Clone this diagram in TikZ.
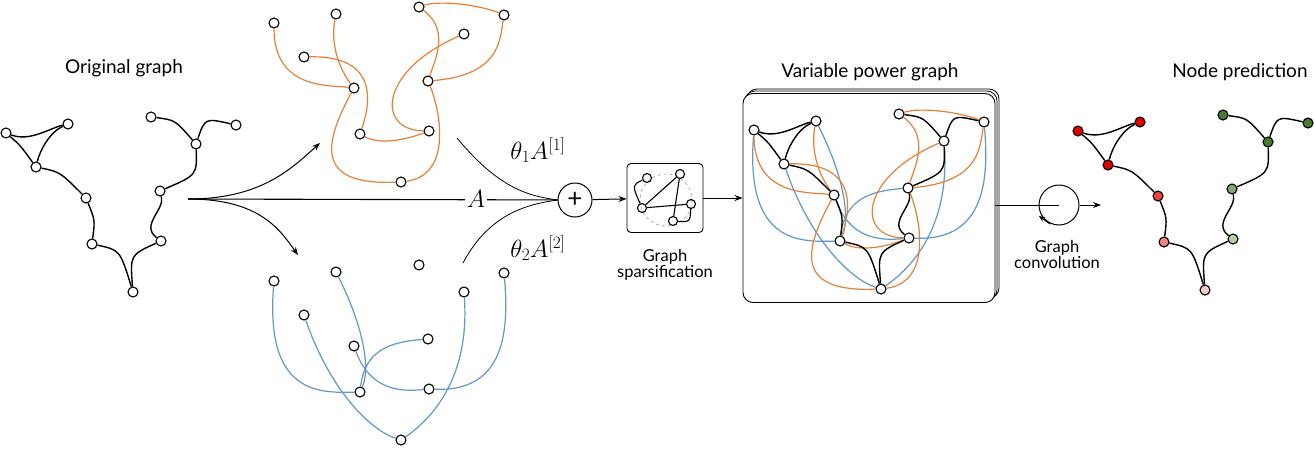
\documentclass[tikz,border=0pt]{standalone}
\usepackage{fontspec}
\setmainfont{Lato}
\usetikzlibrary{arrows.meta}
\definecolor{og}{RGB}{228,128,56}
\definecolor{bl}{RGB}{96,152,204}
\definecolor{r1}{RGB}{225,0,0}
\definecolor{r2}{RGB}{232,70,70}
\definecolor{r3}{RGB}{240,130,130}
\definecolor{r4}{RGB}{248,200,200}
\definecolor{g1}{RGB}{176,204,168}
\definecolor{g2}{RGB}{130,168,112}
\definecolor{g3}{RGB}{74,122,48}
\newcommand\gnodes[2]{%
 \node[vx,fill=#2] (#1-1) at (6,133) {};
 \node[vx,fill=#2] (#1-2) at (68,124) {};
 \node[vx,fill=#2] (#1-3) at (36,167) {};
 \node[vx,fill=#2] (#1-4) at (86,198) {};
 \node[vx,fill=#2] (#1-5) at (92,244) {};
 \node[vx,fill=#2] (#1-6) at (133,292) {};
 \node[vx,fill=#2] (#1-7) at (161,241) {};
 \node[vx,fill=#2] (#1-8) at (160,191) {};
 \node[vx,fill=#2] (#1-9) at (196,144) {};
 \node[vx,fill=#2] (#1-10) at (151,117) {};
 \node[vx,fill=#2] (#1-11) at (236,125) {};}
\newcommand\gblack[1]{%
 \draw[be] (#1-1) .. controls (30,142) and (50,128) .. (#1-2);
 \draw[be] (#1-2) .. controls (50,132) and (40,150) .. (#1-3);
 \draw[be] (#1-1) .. controls (20,145) .. (#1-3);
 \draw[be] (#1-3) .. controls (60,172) .. (#1-4);
 \draw[be] (#1-4) .. controls (95,220) .. (#1-5);
 \draw[be] (#1-5) .. controls (120,250) .. (#1-6);
 \draw[be] (#1-6) .. controls (130,255) .. (#1-7);
 \draw[be] (#1-7) .. controls (140,225) and (165,210) .. (#1-8);
 \draw[be] (#1-8) .. controls (197,175) .. (#1-9);
 \draw[be] (#1-9) .. controls (175,120) .. (#1-10);
 \draw[be] (#1-9) .. controls (205,118) .. (#1-11);}
\newcommand\gorange[1]{%
 \draw[oe] (#1-1) .. controls (6,200) and (62,195) .. (#1-4);
 \draw[oe] (#1-2) .. controls (62,155) and (72,180) .. (#1-4);
 \draw[oe] (#1-3) .. controls (112,165) and (102,215) .. (#1-5);
 \draw[oe] (#1-5) .. controls (112,255) and (137,250) .. (#1-7);
 \draw[oe] (#1-4) .. controls (52,260) and (52,295) .. (#1-6);
 \draw[oe] (#1-6) .. controls (185,285) and (172,220) .. (#1-8);
 \draw[oe] (#1-8) .. controls (232,185) and (232,150) .. (#1-11);
 \draw[oe] (#1-10) .. controls (172,110) and (212,115) .. (#1-11);
 \draw[oe] (#1-10) .. controls (182,140) and (167,170) .. (#1-8);
 \draw[oe] (#1-9) .. controls (112,180) and (107,240) .. (#1-7);}
\newcommand\gblue[1]{%
 \draw[ue] (#1-1) .. controls (-3,247) and (52,245) .. (#1-5);
 \draw[ue] (#1-2) .. controls (97,182) and (102,222) .. (#1-5);
 \draw[ue] (#1-5) .. controls (97,202) and (122,194) .. (#1-8);
 \draw[ue] (#1-3) .. controls (62,242) and (102,282) .. (#1-6);
 \draw[ue] (#1-4) .. controls (102,242) and (132,244) .. (#1-7);
 \draw[ue] (#1-7) .. controls (232,244) and (242,192) .. (#1-11);
 \draw[ue] (#1-9) .. controls (202,232) and (162,272) .. (#1-6);}
\begin{document}
\begin{tikzpicture}[x=1pt,y=-1pt,
 vx/.style={circle,draw,line width=1.1pt,minimum size=10pt,inner sep=0pt},
 be/.style={line width=1.4pt},
 oe/.style={og,line width=1.2pt},
 ue/.style={bl,line width=1.2pt},
 ar/.style={line width=1pt,-{Stealth[length=8pt,width=6pt]}},
 ttl/.style={font=\fontsize{19}{22}\selectfont},
 lbl/.style={font=\fontsize{16.5}{19}\selectfont,align=center},
 mth/.style={font=\fontsize{23}{25}\selectfont}]
\useasboundingbox (0,0) rectangle (1314,450);
% original
\gnodes{o}{white}\gblack{o}
\node[ttl] (t1) at (124,68) {Original graph};
% orange
\begin{scope}[shift={(268,-110)}]\gnodes{a}{white}\gorange{a}\end{scope}
% blue
\begin{scope}[shift={(268,148)}]\gnodes{b}{white}\gblue{b}\end{scope}
% arrows
\coordinate (st) at (188,199);
\node[circle,draw,line width=1pt,minimum size=34pt,inner sep=0pt,font=\fontsize{26}{26}\selectfont] (pl) at (575,200) {+};
\coordinate (up) at (320,143);
\coordinate (dn) at (298,255);
\draw[line width=1.1pt] (st) -- (pl);
\draw[ar] (st) .. controls (260,199) and (290,170) .. (up);
\draw[ar] (st) .. controls (260,199) and (280,230) .. (dn);
\node[fill=white,inner sep=2pt,mth] (la) at (476,199) {$A$};
\coordinate (c1) at (457,138);
\coordinate (c2) at (463,263);
\draw[line width=0.8pt] (c1) .. controls (500,190) and (530,196) .. (pl.west);
\draw[line width=0.8pt] (c2) .. controls (490,212) and (530,204) .. (pl.west);
\node[mth] (l1) at (538,150) {$\theta_1A^{[1]}$};
\node[mth] (l2) at (538,248) {$\theta_2A^{[2]}$};
% sparsification
\node[draw,rounded corners=4pt,line width=0.9pt,minimum width=76pt,minimum height=69pt] (sb) at (665,198) {};
\draw[ar] (pl) -- (sb);
\draw[gray!70,dashed,line width=0.7pt] (666,200) circle (26);
\node[vx,minimum size=9pt] (s1) at (647,178) {};
\node[vx,minimum size=9pt] (s2) at (680,174) {};
\node[vx,minimum size=9pt] (s3) at (642,208) {};
\node[vx,minimum size=9pt] (s4) at (691,204) {};
\node[vx,minimum size=9pt] (s5) at (673,221) {};
\draw[line width=1.1pt] (s1) .. controls (632,185) .. (s3);
\draw[line width=1.1pt] (s3) -- (s2);
\draw[line width=1.1pt] (s3) -- (s4);
\draw[line width=1.1pt] (s2) -- (s5);
\draw[line width=1.1pt] (s5) .. controls (690,222) .. (s4);
\node[lbl] (sl) at (665,265) {Graph\\[-3pt]sparsification};
% power graph box
\draw[line width=0.8pt,rounded corners=10pt,fill=white] (747,89) rectangle (999,298);
\draw[line width=0.8pt,rounded corners=10pt,fill=white] (745,91) rectangle (997,300);
\node[draw,line width=0.9pt,rounded corners=10pt,fill=white,minimum width=252pt,minimum height=209pt] (pb) at (869,198) {};
\draw[ar] (sb) -- (pb);
\node[ttl] (t2) at (870,72) {Variable power graph};
\begin{scope}[shift={(748,-3)}]\gnodes{p}{white}\gblue{p}\gorange{p}\gblack{p}\end{scope}
% convolution
\node[circle,draw,line width=1pt,minimum size=40pt,inner sep=0pt] (cv) at (1059,205) {};
\draw[line width=1pt] (pb.east |- cv) -- (cv.center);
\draw[line width=1pt,-{Stealth[length=6pt,width=5pt]}] (1050,224) -- (1039,216);
\coordinate (ce) at (1101,205);
\draw[ar] (cv.east) -- (ce);
\node[lbl] (cl) at (1057,254) {Graph\\[-3pt]convolution};
% prediction
\node[ttl] (t3) at (1240,72) {Node prediction};
\begin{scope}[shift={(1072,-2)}]
\node[vx,fill=r1] (n-1) at (6,133) {};
\node[vx,fill=r1] (n-2) at (68,124) {};
\node[vx,fill=r1] (n-3) at (36,167) {};
\node[vx,fill=r2] (n-4) at (86,198) {};
\node[vx,fill=r3] (n-5) at (92,244) {};
\node[vx,fill=r4] (n-6) at (133,292) {};
\node[vx,fill=g1] (n-7) at (161,241) {};
\node[vx,fill=g2] (n-8) at (160,191) {};
\node[vx,fill=g3] (n-9) at (196,144) {};
\node[vx,fill=g3] (n-10) at (151,117) {};
\node[vx,fill=g3] (n-11) at (236,125) {};
\gblack{n}
\end{scope}
\end{tikzpicture}
\end{document}
